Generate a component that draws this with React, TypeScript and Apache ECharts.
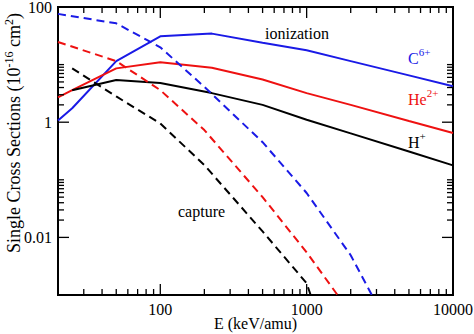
import React, { useEffect, useRef } from 'react';
import * as echarts from 'echarts';

const SERIF = 'Liberation Serif';
const BLUE = '#1a1ae6';
const RED = '#ee1111';
const BLACK = '#000000';

const X_MIN = 20;
const X_MAX = 10000;
const Y_MIN = 0.001;
const Y_MAX = 100;

// axis ticks / labels
const xLabelValues = [100, 1000, 10000];
const yLabelValues = [100, 1, 0.01];
const xMajorTicks = [100, 1000, 10000];
const xMinorTicks = [30, 40, 50, 60, 70, 80, 90, 200, 300, 400, 500, 600, 700, 800, 900, 2000, 3000, 4000, 5000, 6000, 7000, 8000, 9000];
const yMajorTicks = [100, 1, 0.01];
const yMinorTicks = [2, 3, 4, 5, 6, 7, 8, 9, 10, 0.02, 0.03, 0.04, 0.05, 0.06, 0.07, 0.08, 0.09, 0.1];

// ionization (solid)
const ionEnergy = [20, 25, 50, 100, 225, 500, 1000, 2000, 5000, 10000];
const ionC6 = [1.07, 1.75, 11.5, 31, 34.5, 24, 17.7, 11.5, 6.5, 4.2];
const ionHe2 = [2.7, 3.6, 8.6, 11, 8.8, 5.5, 3.2, 2.0, 1.05, 0.65];
const ionH = [null, 3.6, 5.4, 4.8, 3.2, 2.0, 1.1, 0.64, 0.31, 0.178];

// capture (dashed)
const capC6Energy = [20, 50, 100, 200, 500, 1000, 2000, 2850];
const capC6 = [76, 52, 20, 4.1, 0.45, 0.059, 0.0049, 0.0009];
const capHe2Energy = [20, 50, 100, 200, 500, 1000, 1650];
const capHe2 = [24.7, 11.5, 3.6, 0.73, 0.05, 0.0055, 0.00095];
const capHEnergy = [25, 50, 100, 200, 500, 1000, 1080];
const capH = [8.6, 2.8, 0.95, 0.18, 0.0127, 0.0016, 0.0009];

const pairs = (xs: number[], ys: (number | null)[]) =>
  xs.map((x, i) => [x, ys[i] === null ? '-' : ys[i]]);

const near = (v: number, list: number[]) =>
  list.some((t) => Math.abs(Math.log10(v) - Math.log10(t)) < 1e-6);

function lineSeries(name: string, data: any[], color: string, dashed: boolean) {
  return {
    name,
    type: 'line',
    data,
    symbol: 'none',
    clip: true,
    lineStyle: { color, width: 2, type: dashed ? [8, 5] : 'solid' },
    z: 3,
  };
}

function supLabel(base: string, sup: string, color: string, left: number, top: number) {
  return {
    type: 'text',
    left,
    top,
    z: 10,
    style: {
      text: `{a|${base}}{b|${sup}}`,
      fill: color,
      rich: {
        a: { fontSize: 16, fontFamily: SERIF, fill: color, lineHeight: 24 },
        b: { fontSize: 11, fontFamily: SERIF, fill: color, lineHeight: 12, verticalAlign: 'top' },
      },
    },
  };
}

export default function App() {
  const ref = useRef<HTMLDivElement>(null);
  useEffect(() => {
    if (!ref.current) return;
    const chart = echarts.init(ref.current, null, { renderer: 'svg' });
    const texts: any[] = [
      { type: 'text', left: 265, top: 25, z: 10, style: { text: 'ionization', fill: '#000', fontFamily: SERIF, fontSize: 16 } },
      { type: 'text', left: 178, top: 203, z: 10, style: { text: 'capture', fill: '#000', fontFamily: SERIF, fontSize: 16 } },
      supLabel('C', '6+', BLUE, 408, 46),
      supLabel('He', '2+', RED, 408, 87),
      supLabel('H', '+', BLACK, 408, 130),
    ];
    const option: any = {
      animation: false,
      backgroundColor: '#ffffff',
      grid: {
        left: 58, top: 7, right: 21, bottom: 39,
        show: true, borderColor: '#000', borderWidth: 2, backgroundColor: 'transparent',
        containLabel: false, outerBoundsMode: 'none',
      },
      xAxis: {
        type: 'log', logBase: 10, min: X_MIN, max: X_MAX,
        name: 'E (keV/amu)', nameLocation: 'middle', nameGap: 20, nameMoveOverlap: false,
        nameTextStyle: { fontFamily: SERIF, fontSize: 16, color: '#000' },
        axisLine: { show: false }, axisTick: { show: false }, splitLine: { show: false }, minorTick: { show: false },
        axisLabel: {
          fontFamily: SERIF, fontSize: 16, color: '#000', margin: 6, showMinLabel: false,
          formatter: (v: number) => (near(v, xLabelValues) ? String(Math.round(v)) : ''),
        },
      },
      yAxis: {
        type: 'log', logBase: 10, min: Y_MIN, max: Y_MAX,
        name: 'Single Cross Sections (10{s|-16} cm{s|2})', nameLocation: 'middle', nameGap: 33, nameMoveOverlap: false,
        nameTextStyle: {
          fontFamily: SERIF, fontSize: 18, color: '#000', lineHeight: 22, padding: [0, 0, 0, 36],
          rich: { s: { fontFamily: SERIF, fontSize: 12, lineHeight: 12, verticalAlign: 'top', color: '#000' } },
        },
        axisLine: { show: false }, axisTick: { show: false }, splitLine: { show: false },
        axisLabel: {
          fontFamily: SERIF, fontSize: 16, color: '#000', margin: 6,
          formatter: (v: number) => {
            if (!near(v, yLabelValues)) return '';
            if (v >= 1) return String(Math.round(v));
            return String(parseFloat(v.toPrecision(3)));
          },
        },
      },
      series: [
        lineSeries('C6+ ionization', pairs(ionEnergy, ionC6), BLUE, false),
        lineSeries('He2+ ionization', pairs(ionEnergy, ionHe2), RED, false),
        lineSeries('H+ ionization', pairs(ionEnergy, ionH), BLACK, false),
        lineSeries('C6+ capture', pairs(capC6Energy, capC6), BLUE, true),
        lineSeries('He2+ capture', pairs(capHe2Energy, capHe2), RED, true),
        lineSeries('H+ capture', pairs(capHEnergy, capH), BLACK, true),
      ],
      graphic: texts,
    };
    chart.setOption(option);

    // inward tick marks on all four sides, placed through the axes' own scales
    const ticks: any[] = [];
    const px = (x: number, y: number) => chart.convertToPixel({ gridIndex: 0 }, [x, y]) as number[];
    const tickStyle = { stroke: '#000', lineWidth: 1.3 };
    const addX = (vals: number[], len: number) =>
      vals.forEach((v) => {
        const b = px(v, Y_MIN);
        const t = px(v, Y_MAX);
        ticks.push({ type: 'line', z: 5, silent: true, shape: { x1: b[0], y1: b[1], x2: b[0], y2: b[1] - len }, style: { ...tickStyle } });
        ticks.push({ type: 'line', z: 5, silent: true, shape: { x1: t[0], y1: t[1], x2: t[0], y2: t[1] + len }, style: { ...tickStyle } });
      });
    const addY = (vals: number[], len: number) =>
      vals.forEach((v) => {
        const l = px(X_MIN, v);
        const r = px(X_MAX, v);
        ticks.push({ type: 'line', z: 5, silent: true, shape: { x1: l[0], y1: l[1], x2: l[0] + len, y2: l[1] }, style: { ...tickStyle } });
        ticks.push({ type: 'line', z: 5, silent: true, shape: { x1: r[0], y1: r[1], x2: r[0] - len, y2: r[1] }, style: { ...tickStyle } });
      });
    addX(xMajorTicks, 11);
    addX(xMinorTicks, 6);
    addY(yMajorTicks, 11);
    addY(yMinorTicks, 6);
    chart.setOption({ graphic: texts.concat(ticks) });

    return () => chart.dispose();
  }, []);
  return (
    <div ref={ref} style={{ position: 'fixed', left: 0, top: 0, width: 474, height: 334, background: '#fff' }} />
  );
}
